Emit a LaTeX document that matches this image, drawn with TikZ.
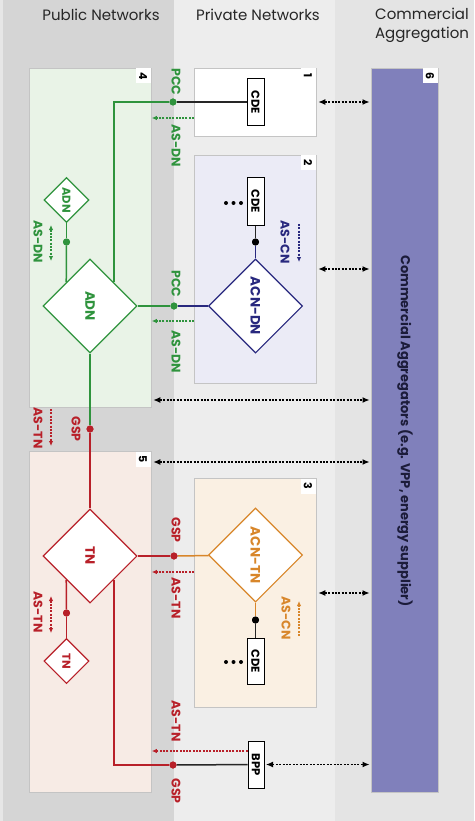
\documentclass[tikz,border=0pt]{standalone}
\usepackage{fontspec}
\setmainfont{Poppins}
\usepackage{graphicx}
\usetikzlibrary{shapes.geometric,arrows.meta}
\definecolor{stripbg}{HTML}{E6E6E6}
\definecolor{pubbg}{HTML}{D5D5D5}
\definecolor{privbg}{HTML}{EDEDED}
\definecolor{combg}{HTML}{E4E4E4}
\definecolor{boxline}{HTML}{C4C4C4}
\definecolor{fourfill}{HTML}{E9F3E7}
\definecolor{twofill}{HTML}{EBEBF6}
\definecolor{fivefill}{HTML}{F7EBE5}
\definecolor{threefill}{HTML}{FAF0E3}
\definecolor{sixfill}{HTML}{8080BB}
\definecolor{cgreen}{HTML}{2F933D}
\definecolor{cred}{HTML}{B82029}
\definecolor{cnavy}{HTML}{28287E}
\definecolor{corange}{HTML}{D8862A}
\definecolor{cdark}{HTML}{1C1C3A}
\begin{document}
\begin{tikzpicture}[x=1pt,y=-1pt,
  panel/.style={draw=boxline, line width=0.8pt, anchor=north west, inner sep=0},
  numbox/.style={fill=white, minimum width=15pt, minimum height=15pt, inner sep=0, font=\bfseries\fontsize{11}{11}\selectfont},
  title/.style={font=\fontsize{15}{19}\selectfont, text=black!85, align=center, inner sep=0},
  diam/.style={diamond, aspect=1, fill=white, line width=1.1pt, inner sep=0, minimum width=94pt, minimum height=94pt, font=\bfseries\fontsize{13.5}{13.5}\selectfont},
  sdiam/.style={diamond, aspect=1, fill=white, line width=1.1pt, inner sep=0, minimum width=45pt, minimum height=45pt, font=\bfseries\fontsize{11.5}{11.5}\selectfont},
  devbox/.style={draw=black, fill=white, line width=1pt, inner sep=0, minimum width=17pt, minimum height=47pt, font=\bfseries\fontsize{11.5}{11.5}\selectfont},
  lab/.style={rotate=-90, inner sep=0, font=\bfseries\fontsize{12.5}{12.5}\selectfont},
  dot/.style={circle, inner sep=0, minimum size=7pt},
  conn/.style={line width=1.5pt},
  asarrow/.style={line width=1.1pt, dash pattern=on 2pt off 1.3pt, -{Latex[length=5pt,width=4.5pt]}},
  asboth/.style={line width=1.1pt, dash pattern=on 2pt off 1.3pt, {Latex[length=5pt,width=4.5pt]}-{Latex[length=5pt,width=4.5pt]}},
  comarrow/.style={line width=1.2pt, dash pattern=on 2pt off 1.4pt, {Latex[length=7pt,width=6pt]}-{Latex[length=7pt,width=6pt]}, shorten <=1.5pt, shorten >=1.5pt}
]
\useasboundingbox (0,0) rectangle (474,821);
% column backgrounds
\fill[stripbg] (0,0) rectangle (3,821);
\fill[pubbg] (3,0) rectangle (174,821);
\fill[privbg] (174,0) rectangle (335,821);
\fill[combg] (335,0) rectangle (474,821);
% titles
\node[title] (tpub) at (101,15) {Public Networks};
\node[title] (tpriv) at (258,15) {Private Networks};
\node[title] (tcom) at (422,25) {Commercial\\Aggregation};
% panels
\node[panel, fill=fourfill, minimum width=122pt, minimum height=339pt] (b4) at (29,68) {};
\node[panel, fill=white, minimum width=122pt, minimum height=68pt] (b1) at (194,68) {};
\node[panel, fill=twofill, minimum width=122pt, minimum height=228pt] (b2) at (194,155) {};
\node[panel, fill=sixfill, minimum width=67pt, minimum height=724pt] (b6) at (371,68) {};
\node[panel, fill=fivefill, minimum width=122pt, minimum height=341pt] (b5) at (29,451) {};
\node[panel, fill=threefill, minimum width=122pt, minimum height=229pt] (b3) at (194,478) {};
% panel numbers
\node[numbox] (n4) at (143,76) {\rotatebox{-90}{4}};
\node[numbox] (n1) at (308,76) {\rotatebox{-90}{1}};
\node[numbox] (n2) at (308,163) {\rotatebox{-90}{2}};
\node[numbox] (n6) at (430,76) {\rotatebox{-90}{6}};
\node[numbox] (n5) at (143,459) {\rotatebox{-90}{5}};
\node[numbox] (n3) at (308,486) {\rotatebox{-90}{3}};
% commercial text
\node[lab, text=cdark, font=\bfseries\fontsize{13}{13}\selectfont] (comtext) at (405,431) {Commercial Aggregators (e.g. VPP, energy supplier)};
% diamonds
\node[diam, draw=cgreen, text=cgreen] (adn) at (90,306) {\rotatebox{-90}{ADN}};
\node[diam, draw=cnavy, text=cnavy] (acndn) at (255.5,306) {\rotatebox{-90}{ACN-DN}};
\node[diam, draw=cred, text=cred] (tn) at (90,556) {\rotatebox{-90}{TN}};
\node[diam, draw=corange, text=corange] (acntn) at (255.5,555) {\rotatebox{-90}{ACN-TN}};
\node[sdiam, draw=cgreen, text=cgreen] (adns) at (66.5,200) {\rotatebox{-90}{ADN}};
\node[sdiam, draw=cred, text=cred] (tns) at (66.5,661) {\rotatebox{-90}{TN}};
% devices
\node[devbox] (cde1) at (255.5,102) {\rotatebox{-90}{CDE}};
\node[devbox] (cde2) at (255.5,201.5) {\rotatebox{-90}{CDE}};
\node[devbox, minimum height=46pt] (cde3) at (255.5,661) {\rotatebox{-90}{CDE}};
\node[devbox, minimum width=16pt] (bpp) at (256,764.5) {\rotatebox{-90}{BPP}};
% ellipses
\foreach \yy in {203,662}{
  \fill (226,\yy) circle (2pt) (233.5,\yy) circle (2pt) (241,\yy) circle (2pt);
}
% dots
\node[dot, fill=cgreen] (pcc1) at (173,102) {};
\node[dot, fill=cgreen] (pcc2) at (174,306) {};
\node[dot, fill=cred] (gsp1) at (90,429) {};
\node[dot, fill=cred] (gsp2) at (174,556) {};
\node[dot, fill=cred] (gsp3) at (173,765) {};
\node[dot, fill=cgreen] (dga) at (66.5,242) {};
\node[dot, fill=cred] (dta) at (66.5,613) {};
\node[dot, fill=black] (dbb) at (255.5,242) {};
\node[dot, fill=black] (dob) at (255.5,620) {};
% connections
\draw[conn, black!85] (cde1) -- (pcc1);
\draw[conn, cgreen] (pcc1) -| (adn.north east);
\draw[conn, cgreen] (adns) -- (dga);
\draw[conn, cgreen] (dga) -- (adn.north west);
\draw[conn, black!85] (cde2) -- (dbb);
\draw[conn, cnavy] (dbb) -- (acndn);
\draw[conn, cnavy] (acndn) -- (pcc2);
\draw[conn, cgreen] (pcc2) -- (adn);
\draw[conn, cgreen] (adn) -- (gsp1);
\draw[conn, cred] (gsp1) -- (tn);
\draw[conn, cred] (tn) -- (gsp2);
\draw[conn, corange] (gsp2) -- (acntn);
\draw[conn, corange] (acntn) -- (dob);
\draw[conn, black!85] (dob) -- (cde3);
\draw[conn, cred] (tn.south west) -- (dta);
\draw[conn, cred] (dta) -- (tns);
\draw[conn, cred] (tn.south east) |- (gsp3);
\draw[conn, black!85] (gsp3) -- (bpp);
% re-draw dots on top
\foreach \d/\c in {pcc1/cgreen,pcc2/cgreen,gsp1/cred,gsp2/cred,gsp3/cred,dga/cgreen,dta/cred,dbb/black,dob/black}{
  \fill[\c] (\d) circle (3.5pt);
}
% level coordinates
\coordinate (ya) at (0,118);
\coordinate (yb) at (0,321);
\coordinate (yc) at (0,572);
\coordinate (yd) at (0,751);
\coordinate (c1) at (0,102);
\coordinate (c2) at (0,269);
\coordinate (c3) at (0,400);
\coordinate (c4) at (0,462);
\coordinate (c5) at (0,593);
\coordinate (c6) at (0,764.5);
% AS arrows (horizontal)
\draw[asarrow, cgreen] (b1.west |- ya) -- (b4.east |- ya);
\draw[asarrow, cgreen] (b2.west |- yb) -- (b4.east |- yb);
\draw[asarrow, cred] (b3.west |- yc) -- (b5.east |- yc);
\draw[asarrow, cred] (bpp.west |- yd) -- (b5.east |- yd);
% AS arrows (vertical)
\coordinate (v1a) at (51,225); \coordinate (v1b) at (51,261);
\draw[asboth, cgreen] (v1a) -- (v1b);
\coordinate (v2a) at (299,224); \coordinate (v2b) at (299,262);
\draw[asarrow, cnavy] (v2a) -- (v2b);
\coordinate (v3a) at (51,409); \coordinate (v3b) at (51,446);
\draw[asarrow, cred] (v3a) -- (v3b);
\coordinate (v4a) at (51,596); \coordinate (v4b) at (51,633);
\draw[asboth, cred] (v4a) -- (v4b);
\coordinate (v5a) at (299,636); \coordinate (v5b) at (299,601);
\draw[asarrow, corange] (v5a) -- (v5b);
% commercial arrows
\draw[comarrow] (b1.east |- c1) -- (b6.west |- c1);
\draw[comarrow] (b2.east |- c2) -- (b6.west |- c2);
\draw[comarrow] (b4.east |- c3) -- (b6.west |- c3);
\draw[comarrow] (b5.east |- c4) -- (b6.west |- c4);
\draw[comarrow] (b3.east |- c5) -- (b6.west |- c5);
\draw[comarrow] (bpp.east |- c6) -- (b6.west |- c6);
% labels
\node[lab, text=cgreen] (l1) at (176,82) {PCC};
\node[lab, text=cgreen] (l2) at (176,146) {AS-DN};
\node[lab, text=cgreen] (l3) at (176,284) {PCC};
\node[lab, text=cgreen] (l4) at (176,352) {AS-DN};
\node[lab, text=cgreen] (l5) at (38,242) {AS-DN};
\node[lab, text=cnavy] (l6) at (285,242) {AS-CN};
\node[lab, text=cred] (l7) at (76,429) {GSP};
\node[lab, text=cred] (l8) at (38,428) {AS-TN};
\node[lab, text=cred] (l9) at (176,530) {GSP};
\node[lab, text=cred] (l10) at (176,598) {AS-TN};
\node[lab, text=cred] (l11) at (38,612) {AS-TN};
\node[lab, text=corange] (l12) at (286,618) {AS-CN};
\node[lab, text=cred] (l13) at (176,721) {AS-TN};
\node[lab, text=cred] (l14) at (176,791) {GSP};
\end{tikzpicture}
\end{document}
